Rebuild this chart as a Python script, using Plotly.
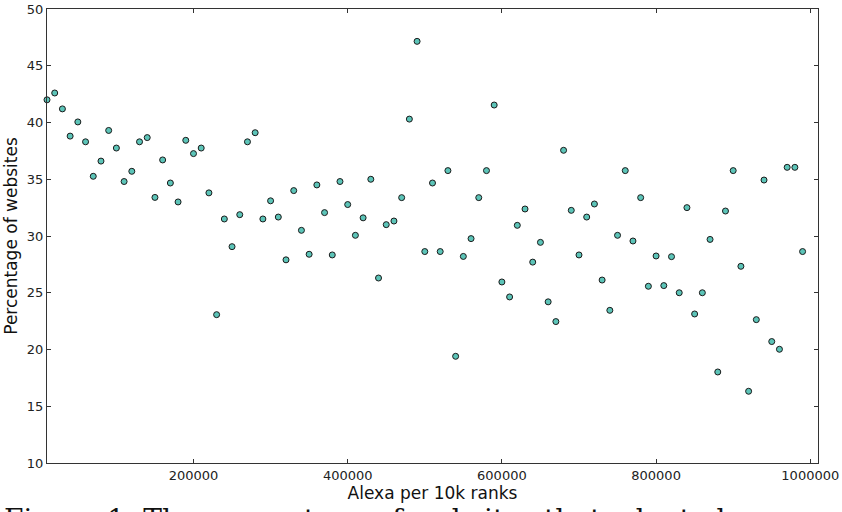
import plotly.graph_objects as go

# Alexa rank buckets (10k each) and share of websites
ranks = [10000 * i for i in range(1, 100)]
percentages = [
    42.0, 42.6, 41.2, 38.8, 40.05, 38.3, 35.26, 36.6, 39.3, 37.75,
    34.8, 35.7, 38.3, 38.67, 33.4, 36.7, 34.67, 33.0, 38.43, 37.26,
    37.75, 33.8, 23.07, 31.5, 29.06, 31.88, 38.3, 39.1, 31.5, 33.1,
    31.67, 27.9, 34.0, 30.5, 28.39, 34.5, 32.06, 28.33, 34.8, 32.77,
    30.06, 31.6, 35.0, 26.3, 31.0, 31.32, 33.38, 40.3, 47.15, 28.63,
    34.67, 28.63, 35.76, 19.4, 28.2, 29.77, 33.38, 35.76, 41.54, 25.95,
    24.63, 30.94, 32.38, 27.7, 29.44, 24.2, 22.46, 37.55, 32.26, 28.33,
    31.67, 32.82, 26.12, 23.45, 30.06, 35.76, 29.56, 33.38, 25.57, 28.24,
    25.63, 28.18, 25.0, 32.5, 23.13, 25.0, 29.7, 18.02, 32.2, 35.76,
    27.33, 16.32, 22.63, 34.93, 20.7, 20.02, 36.05, 36.05, 28.63,
]

x_ticks = [200000, 400000, 600000, 800000, 1000000]
y_ticks = [10, 15, 20, 25, 30, 35, 40, 45, 50]
caption = "Figure 1: The percentage of websites that adopted"

fig = go.Figure()
fig.add_trace(go.Scatter(
    x=ranks,
    y=percentages,
    mode="markers",
    marker=dict(color="#5cc4b8", size=6, line=dict(color="#1a1a1a", width=1)),
    cliponaxis=False,
))

axis_style = dict(
    showline=True, linecolor="#333333", linewidth=1, mirror="ticks",
    ticks="inside", ticklen=4, tickcolor="#333333",
    showgrid=False, zeroline=False, automargin=False,
    tickfont=dict(family="DejaVu Sans", size=13, color="#222222"),
)

fig.update_layout(
    width=842, height=512,
    margin=dict(l=47, r=24, t=9, b=49),
    paper_bgcolor="white", plot_bgcolor="white",
    showlegend=False,
    xaxis=dict(
        range=[10000, 1010000], tickvals=x_ticks,
        ticktext=[str(v) for v in x_ticks],
        title=dict(text="Alexa per 10k ranks", standoff=4,
                   font=dict(family="DejaVu Sans", size=17, color="#111111")),
        **axis_style
    ),
    yaxis=dict(
        range=[10, 50], tickvals=y_ticks,
        title=dict(text="Percentage of websites", standoff=4,
                   font=dict(family="DejaVu Sans", size=17, color="#111111")),
        **axis_style
    ),
    annotations=[dict(
        text=caption, xref="paper", yref="paper",
        x=-0.058, y=-0.124, xanchor="left", yanchor="middle",
        showarrow=False,
        font=dict(family="DejaVu Serif", size=28, color="#111111"),
    )],
)

# page has a default body margin; drop it so the figure sits at the corner
fig.write_html("out.html", config={"displayModeBar": False},
               post_script="document.body.style.margin='0';")
